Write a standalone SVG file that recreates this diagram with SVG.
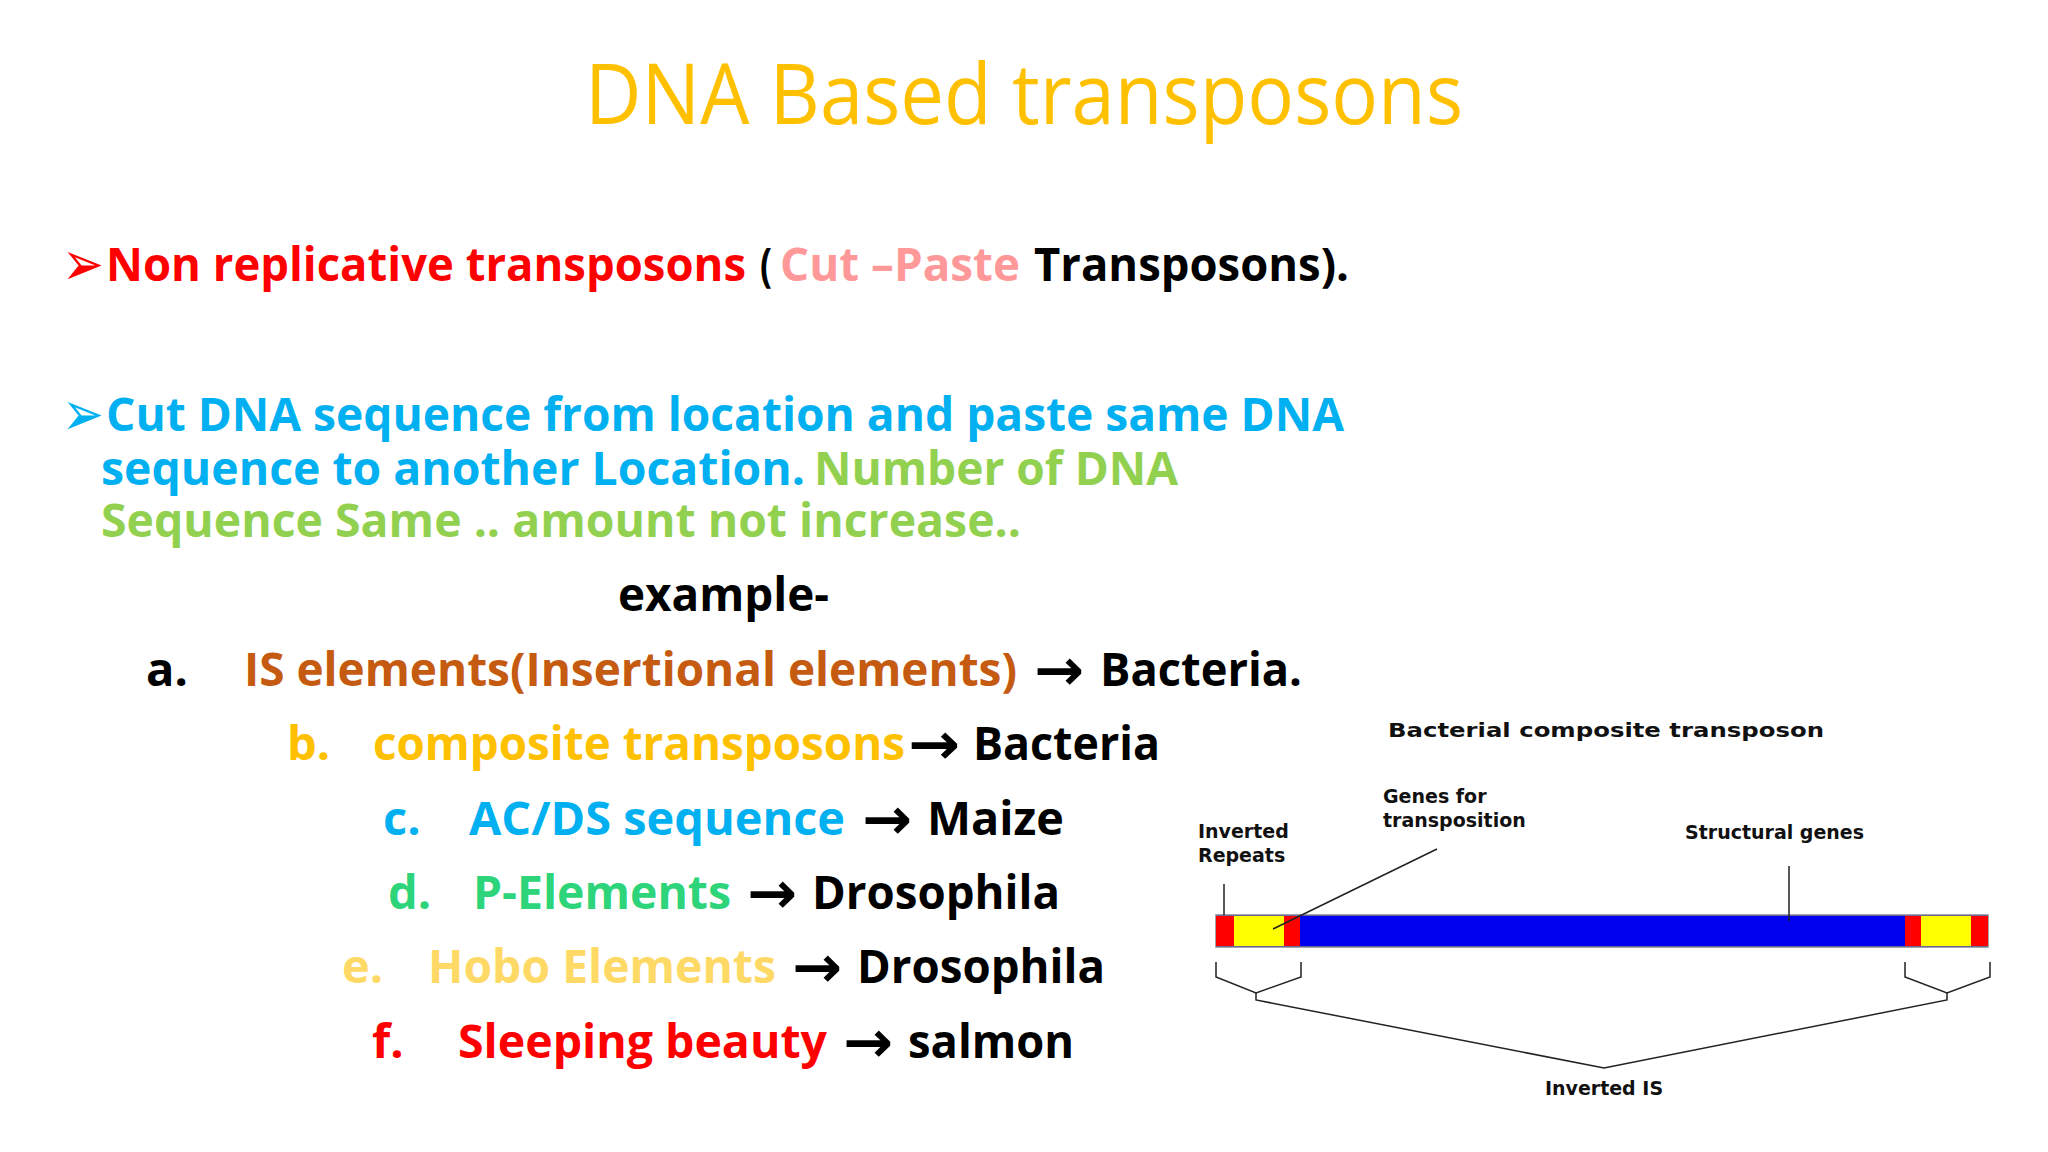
<svg xmlns="http://www.w3.org/2000/svg" width="2048" height="1152" viewBox="0 0 2048 1152">
<style>
.t{font-family:"Open Sans","Liberation Sans",sans-serif;font-weight:bold;font-size:47px}
.a{font-family:"DejaVu Sans",sans-serif;font-weight:bold;font-size:58px;fill:#000}
.h{font-family:"Open Sans","Liberation Sans",sans-serif;font-size:84px;fill:#FFC000}
.b{font-family:"DejaVu Sans",sans-serif;font-size:62px}
.d{font-family:"DejaVu Sans",sans-serif;font-weight:bold;font-size:19px;fill:#111}
.ln{stroke:#222;stroke-width:1.5;fill:none}
</style>
<rect width="2048" height="1152" fill="#fff"/>
<text class="h" x="1024" y="124" text-anchor="middle" textLength="878" lengthAdjust="spacingAndGlyphs">DNA Based transposons</text>
<g id="bullet1">
<text class="b" x="62" y="285" fill="#FF0000" textLength="42" lengthAdjust="spacingAndGlyphs">➢</text>
<text class="t" x="106" y="281" fill="#FF0000" textLength="640" lengthAdjust="spacingAndGlyphs">Non replicative transposons</text>
<text class="t" x="760" y="281" fill="#000" textLength="12" lengthAdjust="spacingAndGlyphs">(</text>
<text class="t" x="780" y="281" fill="#FF9999" textLength="240" lengthAdjust="spacingAndGlyphs">Cut –Paste</text>
<text class="t" x="1034" y="281" fill="#000" textLength="315" lengthAdjust="spacingAndGlyphs">Transposons).</text>
</g>
<g id="bullet2">
<text class="b" x="62" y="435" fill="#00B0F0" textLength="42" lengthAdjust="spacingAndGlyphs">➢</text>
<text class="t" x="106" y="431" fill="#00B0F0" textLength="1238" lengthAdjust="spacingAndGlyphs">Cut DNA sequence from location and paste same DNA</text>
<text class="t" x="101" y="485" fill="#00B0F0" textLength="704" lengthAdjust="spacingAndGlyphs">sequence to another Location.</text>
<text class="t" x="814" y="485" fill="#92D050" textLength="364" lengthAdjust="spacingAndGlyphs">Number of DNA</text>
<text class="t" x="101" y="537" fill="#92D050" textLength="920" lengthAdjust="spacingAndGlyphs">Sequence Same .. amount not increase..</text>
</g>
<g id="examples">
<text class="t" x="618" y="611" fill="#000" textLength="211" lengthAdjust="spacingAndGlyphs">example-</text>
<text class="t" x="146" y="686" fill="#000">a.</text>
<text class="t" x="244" y="686" fill="#C55A11" textLength="773" lengthAdjust="spacingAndGlyphs">IS elements(Insertional elements)</text>
<text class="a" x="1034" y="690" textLength="50" lengthAdjust="spacingAndGlyphs">→</text>
<text class="t" x="1100" y="686" fill="#000" textLength="202" lengthAdjust="spacingAndGlyphs">Bacteria.</text>
<text class="t" x="287" y="760" fill="#FFC000">b.</text>
<text class="t" x="373" y="760" fill="#FFC000" textLength="532" lengthAdjust="spacingAndGlyphs">composite transposons</text>
<text class="a" x="908" y="764" textLength="52" lengthAdjust="spacingAndGlyphs">→</text>
<text class="t" x="973" y="760" fill="#000" textLength="187" lengthAdjust="spacingAndGlyphs">Bacteria</text>
<text class="t" x="383" y="835" fill="#00B0F0">c.</text>
<text class="t" x="469" y="835" fill="#00B0F0" textLength="376" lengthAdjust="spacingAndGlyphs">AC/DS sequence</text>
<text class="a" x="862" y="839" textLength="50" lengthAdjust="spacingAndGlyphs">→</text>
<text class="t" x="927" y="835" fill="#000" textLength="137" lengthAdjust="spacingAndGlyphs">Maize</text>
<text class="t" x="388" y="909" fill="#2ED47A">d.</text>
<text class="t" x="473" y="909" fill="#2ED47A" textLength="258" lengthAdjust="spacingAndGlyphs">P-Elements</text>
<text class="a" x="747" y="913" textLength="50" lengthAdjust="spacingAndGlyphs">→</text>
<text class="t" x="812" y="909" fill="#000" textLength="248" lengthAdjust="spacingAndGlyphs">Drosophila</text>
<text class="t" x="342" y="983" fill="#FFD966">e.</text>
<text class="t" x="428" y="983" fill="#FFD966" textLength="348" lengthAdjust="spacingAndGlyphs">Hobo Elements</text>
<text class="a" x="792" y="987" textLength="50" lengthAdjust="spacingAndGlyphs">→</text>
<text class="t" x="857" y="983" fill="#000" textLength="248" lengthAdjust="spacingAndGlyphs">Drosophila</text>
<text class="t" x="372" y="1058" fill="#FF0000">f.</text>
<text class="t" x="458" y="1058" fill="#FF0000" textLength="369" lengthAdjust="spacingAndGlyphs">Sleeping beauty</text>
<text class="a" x="843" y="1062" textLength="50" lengthAdjust="spacingAndGlyphs">→</text>
<text class="t" x="908" y="1058" fill="#000" textLength="166" lengthAdjust="spacingAndGlyphs">salmon</text>
</g>
<g id="transposon-diagram">
<text class="d" x="1388" y="737" font-size="23" textLength="436" lengthAdjust="spacingAndGlyphs">Bacterial composite transposon</text>
<text class="d" x="1198" y="838">Inverted</text>
<text class="d" x="1198" y="862">Repeats</text>
<text class="d" x="1383" y="803">Genes for</text>
<text class="d" x="1383" y="827">transposition</text>
<text class="d" x="1685" y="839">Structural genes</text>
<text class="d" x="1604" y="1095" text-anchor="middle">Inverted IS</text>
<rect x="1216" y="915" width="772" height="32" fill="#0000EE" stroke="#888" stroke-width="1.5"/>
<rect x="1216" y="916" width="18" height="30" fill="#FF0000"/>
<rect x="1234" y="916" width="50" height="30" fill="#FFFF00"/>
<rect x="1284" y="916" width="16" height="30" fill="#FF0000"/>
<rect x="1905" y="916" width="16" height="30" fill="#FF0000"/>
<rect x="1921" y="916" width="50" height="30" fill="#FFFF00"/>
<rect x="1971" y="916" width="17" height="30" fill="#FF0000"/>
</g>
<g id="connectors">
<path class="ln" d="M1224 884V915"/>
<path class="ln" d="M1437 849L1273 929"/>
<path class="ln" d="M1789 866V921"/>
<path class="ln" d="M1216 962V977L1256 993L1301 977V962"/>
<path class="ln" d="M1905 962V977L1947 993L1990 977V962"/>
<path class="ln" d="M1256 993V1000L1604 1068L1947 1000V993"/>
</g>
</svg>
